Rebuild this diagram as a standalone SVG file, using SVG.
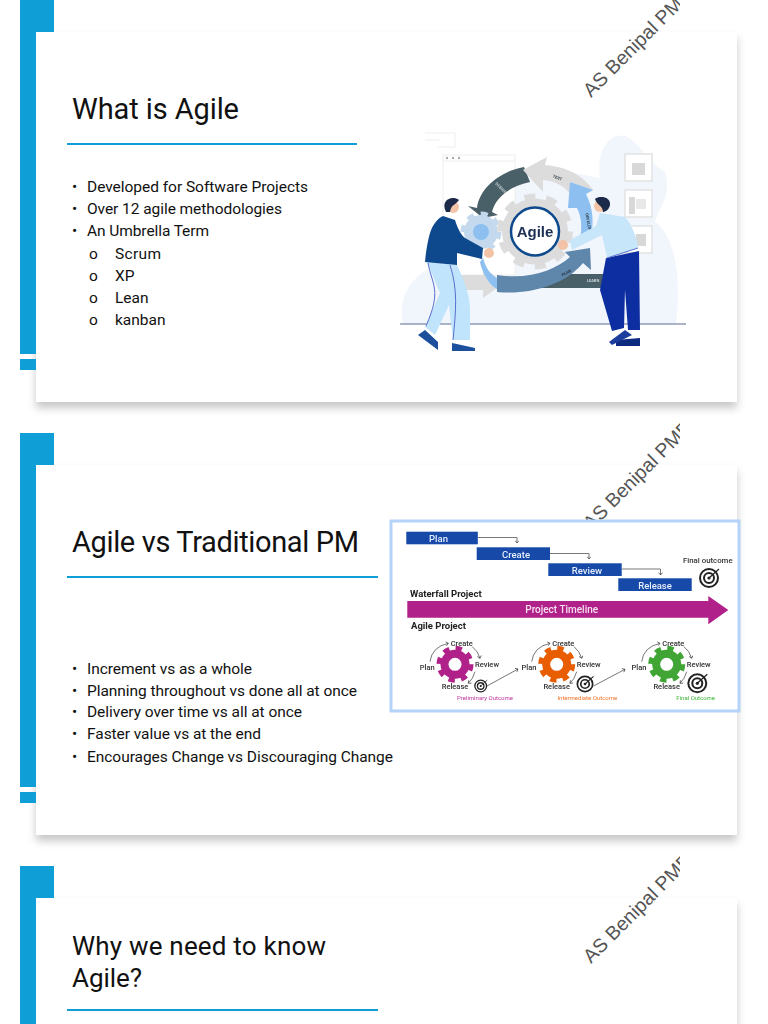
<svg xmlns="http://www.w3.org/2000/svg" xmlns:xlink="http://www.w3.org/1999/xlink" width="768" height="1024" viewBox="0 0 768 1024">
<style>
text{font-family:Roboto,"Liberation Sans",sans-serif;fill:#111}
.blue{fill:#0f9ed5}
.rule{stroke:#0f9ed5;stroke-width:2;fill:none}
.title{font-size:29px}
.t3{font-size:26px}
.body{font-size:15.5px}
.wm{font-family:"Liberation Sans",sans-serif;font-size:19.5px;fill:#555}
.bar{fill:#1248a8}
.bt{font-size:9.5px;fill:#e8eefc;text-anchor:middle;font-weight:500}
.lab{font-size:7.5px;fill:#333;text-anchor:middle;font-weight:500}
.hd{font-size:9.5px;font-weight:700;fill:#222}
.oc{font-size:6px;text-anchor:middle}
.ln{fill:none;stroke:#555;stroke-width:.8}
.il{font-size:4px;font-weight:700;fill:#2a3a44;text-anchor:middle}
</style>
<defs>
<filter id="sh" x="-5%" y="-5%" width="110%" height="110%"><feDropShadow dx="0" dy="6" stdDeviation="4.5" flood-color="#000" flood-opacity=".22"/></filter>
<filter id="soft"><feGaussianBlur stdDeviation=".45"/></filter>
<clipPath id="wc"><rect x="560" y="0" width="120" height="1024"/></clipPath>
<marker id="ah" markerWidth="6" markerHeight="6" refX="4" refY="3" orient="auto"><path d="M1,.5 L4,3 L1,5.5" fill="none" stroke="#444" stroke-width=".9"/></marker>
<g id="g8"><circle r="15" fill="none" stroke="currentColor" stroke-width="7" stroke-dasharray="5.9 5.9"/><circle r="14.5" fill="currentColor"/><circle r="6.5" fill="#fff"/></g>
<g id="tg"><circle r="9" fill="none" stroke="#222" stroke-width="2"/><circle r="5" fill="none" stroke="#222" stroke-width="2"/><circle r="1.6" fill="#222"/><path d="M0,0 L10,-9" stroke="#222" stroke-width="1.2"/></g>
</defs>
<rect width="768" height="1024" fill="#fff"/>

<g id="slide1">
<rect x="36" y="32" width="701" height="370" fill="#fff" filter="url(#sh)"/>
<path class="blue" d="M20,0H54V32H36V354H20Z"/><rect class="blue" x="20" y="359" width="16" height="11"/>
<text class="title" x="72" y="119" textLength="167">What is Agile</text>
<line class="rule" x1="67" y1="144" x2="357" y2="144"/>
<text class="body" x="72" y="192">•</text><text class="body" x="87" y="192" textLength="221">Developed for Software Projects</text>
<text class="body" x="72" y="214">•</text><text class="body" x="87" y="214" textLength="195">Over 12 agile methodologies</text>
<text class="body" x="72" y="236">•</text><text class="body" x="87" y="236" textLength="122">An Umbrella Term</text>
<text class="body" x="89" y="259">o</text><text class="body" x="115" y="259" textLength="46">Scrum</text>
<text class="body" x="89" y="281">o</text><text class="body" x="115" y="281">XP</text>
<text class="body" x="89" y="303">o</text><text class="body" x="115" y="303">Lean</text>
<text class="body" x="89" y="325">o</text><text class="body" x="115" y="325">kanban</text>
<g clip-path="url(#wc)"><text class="wm" transform="translate(591,98) rotate(-45)">AS Benipal PMP</text></g>
<g id="agile-illustration" filter="url(#soft)">
<path fill="#f1f5fc" d="M403,324C398,300 408,280 430,268C438,225 470,182 515,176C530,165 560,170 600,178C596,150 610,132 625,136C640,142 645,160 665,172C672,195 660,205 655,222C675,235 682,280 676,324Z"/>
<g fill="#fff" stroke="#eee" stroke-width="1"><rect x="443" y="155" width="72" height="120"/><rect x="625" y="154" width="27" height="27" stroke="#e2e2e2" stroke-width="1.5"/><rect x="625" y="190" width="27" height="27" stroke="#e2e2e2" stroke-width="1.5"/><rect x="625" y="226" width="27" height="27" stroke="#e2e2e2" stroke-width="1.5"/></g>
<line x1="443" y1="161" x2="515" y2="161" stroke="#eee"/>
<g fill="#aaa"><circle cx="447" cy="158" r="1.2"/><circle cx="453" cy="158" r="1.2"/><circle cx="459" cy="158" r="1.2"/></g>
<g fill="#d8d8d8"><rect x="632" y="163" width="13" height="12"/><rect x="629" y="197" width="6" height="17"/><rect x="636" y="199" width="10" height="10" fill="#e8e8e8"/><rect x="636" y="234" width="10" height="12"/></g>
<path fill="none" stroke="#eee" d="M425,133H455V147H438M425,140H440"/>
<path fill="#4a6068" d="M557,274H622V288H530Z"/>
<path fill="#dcdcdc" d="M460,275H483V267L504,283L483,298V290H460Z"/>
<path fill="#4a6068" d="M524,167C505,170 480,185 477,208L468,206L483,218L498,215L492,212C495,198 510,186 530,182Z"/>
<path fill="#dcdcdc" d="M523,170L547,157L545,165C570,167 585,178 593,190L572,196C565,186 555,181 543,180L543,192Z"/>
<path fill="#8dc0f0" d="M570,182L593,190L586,194C594,210 594,225 590,240L580,240C582,228 582,218 577,208L568,208Z"/>
<path fill="#8dc0f0" d="M483,258C486,268 490,275 500,280L500,290C490,288 482,272 480,262Z"/>
<path fill="#5f86ab" d="M497,275C530,280 555,270 570,257L565,252L590,248L591,270L583,263C565,285 530,295 497,292Z"/>
<text class="il" x="567" y="274" transform="rotate(-28 567 274)">PLAN</text>
<text class="il" x="557" y="179" transform="rotate(20 557 179)">TEST</text>
<text class="il" x="500" y="189" transform="rotate(45 500 189)" style="fill:#c8d4d8">DESIGN</text>
<text class="il" x="587" y="222" transform="rotate(80 587 222)">DEVELOP</text>
<text class="il" x="593" y="282" style="fill:#c8d4d8">LEARN</text>
<g id="small-gear" transform="translate(481,232)"><circle r="18" fill="none" stroke="#c5d9ee" stroke-width="5" stroke-dasharray="7 7"/><circle r="17" fill="#c5d9ee"/><circle r="8" fill="#8dc0f0"/></g>
<g id="agile-gear" transform="translate(535,231.5)"><circle r="35" fill="none" stroke="#dcdcdc" stroke-width="6" stroke-dasharray="11 11"/><circle r="33" fill="#dcdcdc"/><circle r="24" fill="#fff" stroke="#0e4a8c" stroke-width="2.5"/><text y="5" text-anchor="middle" style="font-family:'Liberation Sans',sans-serif;font-size:15px;font-weight:700;fill:#1c2f55">Agile</text></g>
<line x1="400" y1="324" x2="686" y2="324" stroke="#5a6a90" stroke-width="1"/>
<g id="man-left">
<path fill="#c0e4fb" d="M427,262L457,265C464,280 470,295 470,310L470,340L453,340L449,305L435,335L425,327L440,293Z"/>
<path fill="none" stroke="#5a6fd0" stroke-width="1" d="M428,263C432,285 442,290 426,326M450,265C458,290 456,310 453,340"/>
<path fill="#1a4f9c" d="M418,335L425,330L438,342L438,350ZM452,343L475,348V351H452Z"/>
<path fill="#0e4a8c" d="M443,216L455,220C458,230 462,236 465,238L483,248L482,259L457,253L457,265L425,262C426,250 428,240 430,233C433,224 438,218 443,216Z"/>
<circle cx="489" cy="253" r="5" fill="#f2c3a6"/>
<circle cx="453" cy="207" r="6" fill="#f2c3a6"/>
<path fill="#1b2a4a" d="M446,212C440,200 452,195 459,200C456,205 451,204 450,212Z"/>
</g>
<g id="man-right">
<path fill="#102fa0" d="M606,258L639,251L640,330L628,330L625,290L624,328L612,331L600,290Z"/>
<path fill="#0f2a80" d="M616,340L640,338V346H616Z"/><path fill="#1a3c9c" d="M609,342L625,330L632,335L612,345Z"/>
<path fill="#c8e6fa" d="M600,213L625,217C632,225 638,240 638,248L607,258L602,235L572,250L570,240L596,226Z"/>
<path fill="none" stroke="#5a6fd0" stroke-width="1" d="M607,258L638,248"/>
<circle cx="563" cy="245" r="5" fill="#f2c3a6"/>
<circle cx="600" cy="206" r="6" fill="#f2c3a6"/>
<path fill="#1b2a4a" d="M595,199C600,195 611,197 610,205C609,210 605,212 603,212C603,206 597,205 595,199Z"/>
</g>
</g>
</g>

<g id="slide2">
<rect x="36" y="465" width="701" height="370" fill="#fff" filter="url(#sh)"/>
<path class="blue" d="M20,433H54V465H36V787H20Z"/><rect class="blue" x="20" y="792" width="16" height="11"/>
<text class="title" x="72" y="552" textLength="287">Agile vs Traditional PM</text>
<line class="rule" x1="67" y1="577" x2="378" y2="577"/>
<text class="body" x="72" y="674">•</text><text class="body" x="87" y="674" textLength="165">Increment vs as a whole</text>
<text class="body" x="72" y="696">•</text><text class="body" x="87" y="696" textLength="270">Planning throughout vs done all at once</text>
<text class="body" x="72" y="717">•</text><text class="body" x="87" y="717" textLength="215">Delivery over time vs all at once</text>
<text class="body" x="72" y="739">•</text><text class="body" x="87" y="739" textLength="174">Faster value vs at the end</text>
<text class="body" x="72" y="762">•</text><text class="body" x="87" y="762" textLength="306">Encourages Change vs Discouraging Change</text>
<g clip-path="url(#wc)"><text class="wm" transform="translate(591,531) rotate(-45)">AS Benipal PMP</text></g>
<g id="timeline-figure" filter="url(#soft)">
<rect x="391" y="521" width="348" height="190" fill="#fff" stroke="#b5d3f8" stroke-width="3"/>
<g id="wf-plan"><rect class="bar" x="406.3" y="531.7" width="71.5" height="12.6"/><text class="bt" x="438.5" y="542">Plan</text></g>
<g id="wf-create"><rect class="bar" x="476.7" y="547.3" width="73.3" height="12.7"/><text class="bt" x="516" y="557.5">Create</text></g>
<g id="wf-review"><rect class="bar" x="548.3" y="563.3" width="73.4" height="12.7"/><text class="bt" x="587" y="573.5">Review</text></g>
<g id="wf-release"><rect class="bar" x="618.3" y="578.3" width="73.4" height="12.7"/><text class="bt" x="655" y="588.5">Release</text></g>
<g id="connectors">
<path class="ln" marker-end="url(#ah)" d="M478,537.5H517V543"/>
<path class="ln" marker-end="url(#ah)" d="M550,553.5H589V559"/>
<path class="ln" marker-end="url(#ah)" d="M622,569H660.5V575"/>
<path class="ln" marker-end="url(#ah)" d="M430,661.7Q431.7,647 448.3,643.3"/>
<path class="ln" marker-end="url(#ah)" d="M472.3,646.7Q478,651 480,658.3"/>
<path class="ln" marker-end="url(#ah)" d="M475,671.7Q473,679 468.3,683.3"/>
<path class="ln" marker-end="url(#ah)" d="M531.7,661.7Q533.4,647 550,643.3"/>
<path class="ln" marker-end="url(#ah)" d="M574,646.7Q579.7,651 581.7,658.3"/>
<path class="ln" marker-end="url(#ah)" d="M576.7,671.7Q574.7,679 570,683.3"/>
<path class="ln" marker-end="url(#ah)" d="M641.7,661.7Q643.4,647 660,643.3"/>
<path class="ln" marker-end="url(#ah)" d="M684,646.7Q689.7,651 691.7,658.3"/>
<path class="ln" marker-end="url(#ah)" d="M686.7,671.7Q684.7,679 680,683.3"/>
<path class="ln" marker-end="url(#ah)" d="M487,686L518,669"/>
<path class="ln" marker-end="url(#ah)" d="M593.5,686L625,669.3"/>
</g>
<text class="hd" x="410" y="596.5">Waterfall Project</text>
<text class="hd" x="411" y="629">Agile Project</text>
<text x="683" y="563" style="font-size:7.8px;font-weight:500;fill:#333">Final outcome</text>
<use xlink:href="#tg" href="#tg" transform="translate(709,578)"/>
<g id="timeline-arrow"><path fill="#b0218a" d="M407.3,601H708.3V596L728.3,610L708.3,624.3V617.7H407.3Z"/><text x="561.7" y="612.5" text-anchor="middle" style="font-size:10px;fill:#f6e0f0;font-weight:500">Project Timeline</text></g>
<g id="cycle1" color="#b0218a"><use href="#g8" xlink:href="#g8" transform="translate(455,664.3)"/>
<text class="lab" x="461.7" y="646">Create</text><text class="lab" x="427.3" y="669.5">Plan</text><text class="lab" x="487" y="666.5">Review</text><text class="lab" x="455" y="689">Release</text>
<use href="#tg" xlink:href="#tg" transform="translate(480.7,686) scale(.65)"/><text class="oc" x="485" y="700" style="fill:#c035a0">Preliminary Outcome</text></g>
<g id="cycle2" color="#e85d04"><use href="#g8" xlink:href="#g8" transform="translate(556.7,664.3)"/>
<text class="lab" x="563.3" y="646">Create</text><text class="lab" x="529" y="669.5">Plan</text><text class="lab" x="588.7" y="666.5">Review</text><text class="lab" x="556.7" y="689">Release</text>
<use href="#tg" xlink:href="#tg" transform="translate(585,684) scale(.85)"/><text class="oc" x="587.3" y="700" style="fill:#f0762a">Intermediate Outcome</text></g>
<g id="cycle3" color="#3fa535"><use href="#g8" xlink:href="#g8" transform="translate(666.7,664.3)"/>
<text class="lab" x="673.3" y="646">Create</text><text class="lab" x="639" y="669.5">Plan</text><text class="lab" x="698.7" y="666.5">Review</text><text class="lab" x="666.7" y="689">Release</text>
<use href="#tg" xlink:href="#tg" transform="translate(697.3,683.3)"/><text class="oc" x="695.7" y="700" style="fill:#3fb53a">Final Outcome</text></g>
</g>
</g>

<g id="slide3">
<rect x="36" y="898" width="701" height="370" fill="#fff" filter="url(#sh)"/>
<path class="blue" d="M20,866H54V898H36V1024H20Z"/>
<text class="title t3" x="72" y="955" textLength="254">Why we need to know</text>
<text class="title t3" x="72" y="987" textLength="70">Agile?</text>
<line class="rule" x1="67" y1="1010" x2="378" y2="1010"/>
<g clip-path="url(#wc)"><text class="wm" transform="translate(591,964) rotate(-45)">AS Benipal PMP</text></g>
</g>
</svg>
